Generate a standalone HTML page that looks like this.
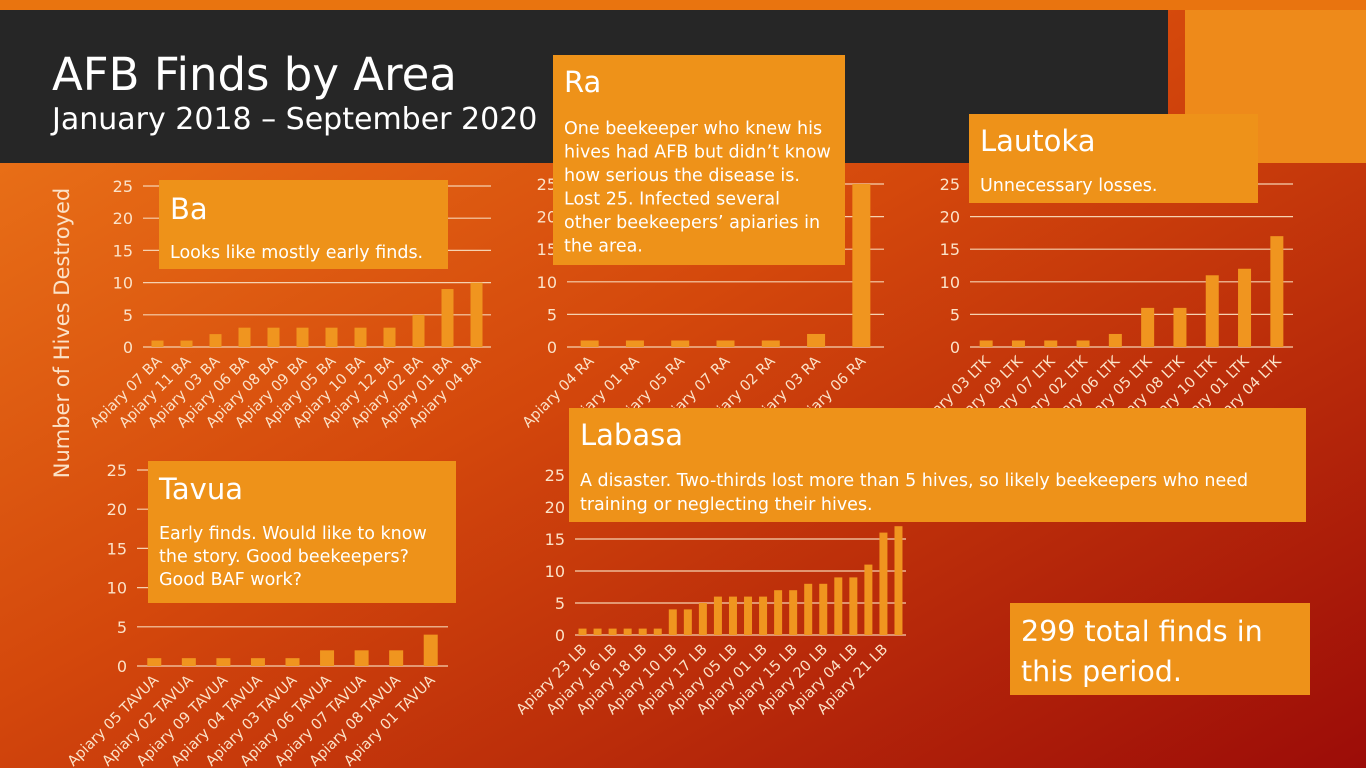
<!DOCTYPE html>
<html><head><meta charset="utf-8"><style>
html,body{margin:0;padding:0;width:1366px;height:768px;overflow:hidden}
body{font-family:"DejaVu Sans","Liberation Sans",sans-serif}
svg text{font-family:"DejaVu Sans","Liberation Sans",sans-serif}
</style></head><body>
<svg id="s" width="1366" height="768" viewBox="0 0 1366 768">
<defs>
<linearGradient id="bg" x1="0" y1="0" x2="1" y2="1">
<stop offset="0" stop-color="#ee7a1a"/><stop offset="0.45" stop-color="#d4480c"/><stop offset="1" stop-color="#9c0c08"/>
</linearGradient>
</defs>
<rect width="1366" height="768" fill="url(#bg)"/>
<rect x="0" y="0" width="1366" height="10" fill="#e9740f"/>
<rect x="0" y="10" width="1168" height="153" fill="#262626"/>
<rect x="1185" y="10" width="181" height="153" fill="#ee8a1a"/>
<text x="52" y="90" font-size="45" fill="#fff">AFB Finds by Area</text>
<text x="52" y="129" font-size="30" fill="#fff">January 2018 – September 2020</text>
<text transform="translate(69,333) rotate(-90)" text-anchor="middle" font-size="21" fill="#fbe2c8">Number of Hives Destroyed</text>
<g id="charts"></g>
<g id="boxes"></g>
</svg>
<script>
const baCats=["Apiary 07 BA","Apiary 11 BA","Apiary 03 BA","Apiary 06 BA","Apiary 08 BA","Apiary 09 BA","Apiary 05 BA","Apiary 10 BA","Apiary 12 BA","Apiary 02 BA","Apiary 01 BA","Apiary 04 BA"];
const baVals=[1,1,2,3,3,3,3,3,3,5,9,10];
const raCats=["Apiary 04 RA","Apiary 01 RA","Apiary 05 RA","Apiary 07 RA","Apiary 02 RA","Apiary 03 RA","Apiary 06 RA"];
const raVals=[1,1,1,1,1,2,25];
const ltkCats=["Apiary 03 LTK","Apiary 09 LTK","Apiary 07 LTK","Apiary 02 LTK","Apiary 06 LTK","Apiary 05 LTK","Apiary 08 LTK","Apiary 10 LTK","Apiary 01 LTK","Apiary 04 LTK"];
const ltkVals=[1,1,1,1,2,6,6,11,12,17];
const tavCats=["Apiary 05 TAVUA","Apiary 02 TAVUA","Apiary 09 TAVUA","Apiary 04 TAVUA","Apiary 03 TAVUA","Apiary 06 TAVUA","Apiary 07 TAVUA","Apiary 08 TAVUA","Apiary 01 TAVUA"];
const tavVals=[1,1,1,1,1,2,2,2,4];
const lbCats=["Apiary 23 LB","","Apiary 16 LB","","Apiary 18 LB","","Apiary 10 LB","","Apiary 17 LB","","Apiary 05 LB","","Apiary 01 LB","","Apiary 15 LB","","Apiary 20 LB","","Apiary 04 LB","","Apiary 21 LB",""];
const lbVals=[1,1,1,1,1,1,4,4,5,6,6,6,6,7,7,8,8,9,9,11,16,17];
const yTicks=[0,5,10,15,20,25];
const NS="http://www.w3.org/2000/svg";
const charts=document.getElementById('charts');
function mk(tag,attrs,parent){const e=document.createElementNS(NS,tag);for(const k in attrs)e.setAttribute(k,attrs[k]);parent.appendChild(e);return e;}
function chart(id,cats,vals,x0,x1,y0,y25,bw,lblSize){
  const g=mk('g',{},charts);
  
  
  const ys=v=>y0-(v/25)*(y0-y25);
  yTicks.forEach(t=>{
    const l=mk('line',{x1:x0,x2:x1,y1:ys(t),y2:ys(t),stroke:'#f6d2b0','stroke-width':1.2},g);
    
    
    const tx=mk('text',{x:x0-10,y:ys(t)+6,'text-anchor':'end','font-size':16,fill:'#fbe2c8'},g);
    tx.textContent=t;
    
    
  });
  const slot=(x1-x0)/vals.length;
  vals.forEach((v,i)=>{
    const cx=x0+slot*(i+0.5);
    const r=mk('rect',{x:cx-bw/2,y:ys(v),width:bw,height:ys(0)-ys(v),fill:'#f0951f'},g);
    
    
    if(cats[i]){
      const t=mk('text',{x:cx+5,y:y0+15,'text-anchor':'end','font-size':lblSize,fill:'#fbe2c8',transform:`rotate(-45 ${cx+5} ${y0+15})`},g);
      t.textContent=cats[i];
      
      
    }
  });
}
chart('ba',baCats,baVals,143,491,347,186,12,14.5);
chart('ra',raCats,raVals,567,884,347,184,18,14.5);
chart('lautoka',ltkCats,ltkVals,970,1293,347,184,13,14.5);
chart('tavua',tavCats,tavVals,137,448,666,470,14,14.5);
chart('labasa',lbCats,lbVals,575,906,635,475,8,14.5);
</script>
<script>
const boxes=document.getElementById('boxes');
function box(id,x,y,w,h,title,lines,ts,bs,ty,by0,lh){
  const g=mk('g',{},boxes);
  
  
  mk('rect',{x:x,y:y,width:w,height:h,fill:'#ee9219'},g);
  if(title){const t=mk('text',{x:x+11,y:y+ty,'font-size':ts,fill:'#fff'},g);t.textContent=title;
    
    }
  lines.forEach((l,i)=>{const t=mk('text',{x:x+11,y:y+by0+i*lh,'font-size':bs,fill:'#fff'},g);t.textContent=l;
    
    });
}
box('ba',159,180,289,89,'Ba',['Looks like mostly early finds.'],29,17.5,39,78,22);
box('ra',553,55,292,210,'Ra',['One beekeeper who knew his',"hives had AFB but didn’t know",'how serious the disease is.','Lost 25. Infected several','other beekeepers’ apiaries in','the area.'],29,17.5,37,79,23.5);
box('lautoka',969,114,289,89,'Lautoka',['Unnecessary losses.'],29,17.5,37,77,22);
box('tavua',148,461,308,142,'Tavua',['Early finds.  Would like to know','the story.  Good beekeepers?','Good BAF work?'],29,17.5,38,78,23);
box('labasa',569,408,737,114,'Labasa',['A disaster.  Two-thirds lost more than 5 hives, so likely beekeepers who need','training or neglecting their hives.'],29,17.5,37,78,24);
box('total',1010,603,300,92,null,[],0,0,0,0,0);
const tt=mk('text',{x:1021,y:641,'font-size':28.5,fill:'#fff'},boxes);tt.textContent='299 total finds in';


const tt2=mk('text',{x:1021,y:681,'font-size':28.5,fill:'#fff'},boxes);tt2.textContent='this period.';


</script>
</body></html>
